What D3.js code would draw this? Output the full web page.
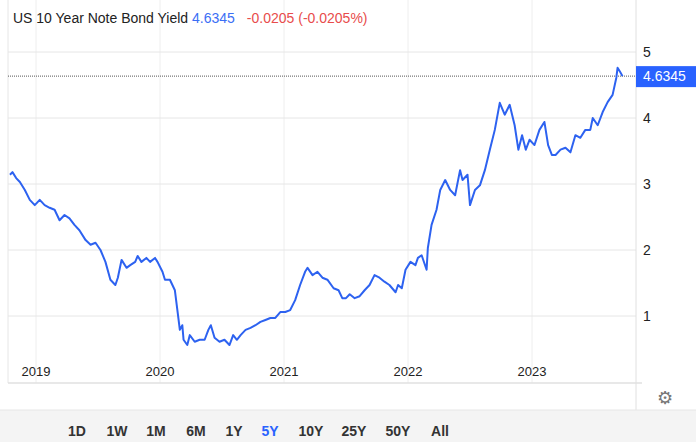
<!DOCTYPE html><html><head><meta charset="utf-8"><script src="https://cdn.jsdelivr.net/npm/d3@7"></script>
<style>body{margin:0;background:#fff}svg{font-family:"Liberation Sans",Arial,sans-serif}</style></head><body><svg id="c" width="696" height="442"></svg><script>
const dates=[2018.79,2018.81,2018.84,2018.87,2018.91,2018.95,2018.99,2019.03,2019.07,2019.11,2019.15,2019.19,2019.23,2019.27,2019.31,2019.35,2019.40,2019.44,2019.48,2019.52,2019.56,2019.60,2019.64,2019.66,2019.69,2019.73,2019.76,2019.80,2019.82,2019.85,2019.89,2019.92,2019.96,2019.98,2020.02,2020.04,2020.08,2020.12,2020.15,2020.16,2020.18,2020.19,2020.22,2020.24,2020.28,2020.32,2020.36,2020.39,2020.41,2020.44,2020.48,2020.52,2020.56,2020.59,2020.62,2020.65,2020.69,2020.73,2020.77,2020.81,2020.85,2020.89,2020.93,2020.97,2021.01,2021.05,2021.09,2021.13,2021.17,2021.19,2021.23,2021.27,2021.31,2021.35,2021.40,2021.44,2021.47,2021.50,2021.53,2021.57,2021.61,2021.65,2021.69,2021.73,2021.77,2021.81,2021.85,2021.90,2021.92,2021.95,2021.98,2022.02,2022.06,2022.08,2022.11,2022.15,2022.16,2022.19,2022.23,2022.26,2022.30,2022.34,2022.38,2022.42,2022.44,2022.48,2022.50,2022.54,2022.58,2022.62,2022.66,2022.70,2022.74,2022.78,2022.82,2022.86,2022.89,2022.92,2022.95,2022.98,2023.02,2023.06,2023.10,2023.13,2023.16,2023.19,2023.23,2023.27,2023.31,2023.35,2023.39,2023.43,2023.47,2023.49,2023.53,2023.57,2023.61,2023.65,2023.68,2023.69,2023.71,2023.73];
const yields=[3.14,3.18,3.09,3.03,2.91,2.76,2.68,2.76,2.68,2.64,2.61,2.45,2.53,2.48,2.38,2.30,2.15,2.08,2.11,2.00,1.82,1.55,1.47,1.58,1.85,1.73,1.77,1.82,1.91,1.82,1.88,1.82,1.88,1.82,1.67,1.55,1.55,1.39,0.94,0.79,0.86,0.64,0.56,0.71,0.61,0.64,0.64,0.79,0.86,0.67,0.61,0.64,0.56,0.71,0.64,0.71,0.79,0.82,0.86,0.91,0.94,0.97,0.97,1.06,1.06,1.09,1.24,1.47,1.67,1.73,1.62,1.67,1.58,1.55,1.42,1.39,1.27,1.27,1.33,1.27,1.30,1.39,1.47,1.62,1.58,1.52,1.47,1.36,1.47,1.42,1.70,1.82,1.77,1.88,1.92,1.70,2.03,2.38,2.61,2.91,3.06,2.91,2.83,3.21,3.06,3.14,2.68,2.91,2.98,3.21,3.52,3.82,4.23,4.05,4.20,3.89,3.52,3.74,3.52,3.67,3.59,3.82,3.94,3.59,3.44,3.44,3.52,3.55,3.48,3.74,3.70,3.82,3.82,4.00,3.89,4.09,4.24,4.35,4.61,4.76,4.70,4.6345];
const yearTicks=[2019,2020,2021,2022,2023];
const yTicks=[1,2,3,4,5];
const ranges=["1D","1W","1M","6M","1Y","5Y","10Y","25Y","50Y","All"];
const last=4.6345, change="-0.0205", changePct="(-0.0205%)";
const svg=d3.select("#c");
const x=d3.scaleLinear().domain([2019,2024]).range([36,656]);
const y=d3.scaleLinear().domain([0,5]).range([382,52]);
const L=8,R=636,B=383;
svg.append("g").selectAll("line").data(yearTicks).join("line").attr("x1",d=>x(d)).attr("x2",d=>x(d)).attr("y1",0).attr("y2",B).attr("stroke","#eeeeee");
svg.append("g").selectAll("line").data(yTicks).join("line").attr("x1",L).attr("x2",R).attr("y1",d=>y(d)).attr("y2",d=>y(d)).attr("stroke","#e6e6e6");
svg.append("line").attr("x1",L).attr("x2",L).attr("y1",0).attr("y2",B).attr("stroke","#e6e6e6");
svg.append("line").attr("x1",L).attr("x2",R+6).attr("y1",B).attr("y2",B).attr("stroke","#e0e0e0").attr("stroke-width",1.5);
svg.append("line").attr("x1",R).attr("x2",R).attr("y1",0).attr("y2",410).attr("stroke","#e0e0e0");
svg.append("rect").attr("x",0).attr("y",410).attr("width",696).attr("height",32).attr("fill","#f4f4f4");
svg.append("line").attr("x1",0).attr("x2",696).attr("y1",410).attr("y2",410).attr("stroke","#e6e6e6");
svg.append("g").selectAll("text").data(yTicks).join("text").attr("x",643).attr("y",d=>y(d)+5).attr("font-size",14).attr("fill","#222").text(d=>d);
svg.append("g").selectAll("text").data(yearTicks).join("text").attr("x",d=>x(d)).attr("y",376).attr("text-anchor","middle").attr("font-size",13).attr("fill","#222").text(d=>d);
svg.append("line").attr("x1",L).attr("x2",R).attr("y1",y(last)).attr("y2",y(last)).attr("stroke","#555").attr("stroke-dasharray","1,1");
const line=d3.line().x((d,i)=>x(dates[i])).y(d=>y(d));
svg.append("path").datum(yields).attr("d",line).attr("fill","none").attr("stroke","#2d62f0").attr("stroke-width",2).attr("stroke-linejoin","round");
svg.append("rect").attr("x",R).attr("y",y(last)-10).attr("width",60).attr("height",21).attr("fill","#2962ff");
svg.append("text").attr("x",643).attr("y",y(last)+5).attr("font-size",14).attr("fill","#fff").text(last);
const t=svg.append("text").attr("x",13).attr("y",23).attr("font-size",14);
t.append("tspan").attr("fill","#222").text("US 10 Year Note Bond Yield ");
t.append("tspan").attr("fill","#3b6ef5").text(last);
t.append("tspan").attr("fill","#e84c4c").attr("dx",12).text(change+" "+changePct);
const rx=[77,117,156,196,234,270,311,354,398,440];
svg.append("g").selectAll("text").data(ranges).join("text").attr("x",(d,i)=>rx[i]).attr("y",436).attr("text-anchor","middle").attr("font-size",14).attr("font-weight","bold").attr("fill",d=>d==="5Y"?"#2962ff":"#333").text(d=>d);
svg.append("text").attr("x",665).attr("y",404).attr("text-anchor","middle").attr("font-size",18).attr("fill","#777").text("⚙");
</script></body></html>
